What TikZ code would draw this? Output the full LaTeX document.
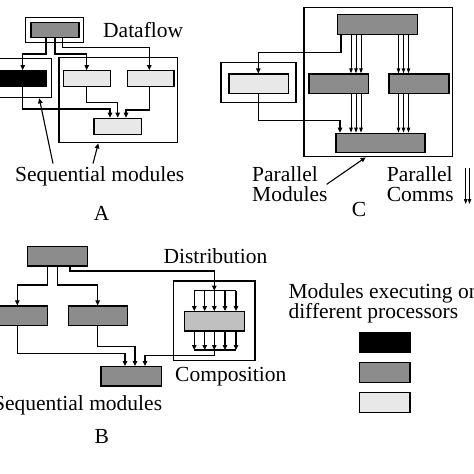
\documentclass[tikz,border=0pt]{standalone}
\usepackage{fontspec}
\setmainfont{Liberation Serif}
\usetikzlibrary{arrows.meta}
\definecolor{procdark}{RGB}{140,140,140}
\definecolor{proclight}{RGB}{232,232,232}
\definecolor{procmid}{RGB}{192,192,192}
\tikzset{
  mod/.style={draw,line width=1.3pt,inner sep=0pt},
  frame/.style={draw,line width=1.3pt,inner sep=0pt},
  flow/.style={->,line width=1.1pt},
  note/.style={->,line width=1.1pt},
  txt/.style={font=\fontsize{21.5pt}{20pt}\selectfont,inner sep=0pt,align=left},
}
\begin{document}
\begin{tikzpicture}[x=1pt,y=-1pt,>={Triangle[length=5pt,width=4.5pt]}]
\useasboundingbox (0,0) rectangle (474,474);
% panel A
\node[frame,minimum width=57.6,minimum height=25.4] (aTopFrame) at (54.5,30) {};
\node[mod,fill=procdark,minimum width=48,minimum height=14.6] (aTop) at (55,30) {};
\node[frame,minimum width=61.7,minimum height=39.4] (aLeftFrame) at (20.85,78) {};
\node[mod,fill=black,minimum width=56.7,minimum height=16] (aBlack) at (18.35,78.7) {};
\node[frame,minimum width=118.3,minimum height=85] (aRightFrame) at (118.15,100.2) {};
\node[mod,fill=proclight,minimum width=47.4,minimum height=16] (aL1) at (87,78.7) {};
\node[mod,fill=proclight,minimum width=46.3,minimum height=16] (aL2) at (150.85,78.7) {};
\node[mod,fill=proclight,minimum width=47.7,minimum height=16] (aBot) at (117.85,126.3) {};
\draw[flow] (aTop.south -| 46,0) |- (22.7,54) -- (aBlack.north -| 22.7,0);
\draw[flow] (aTop.south -| 55,0) |- (86.7,54) -- (aL1.north -| 86.7,0);
\draw[flow] (aTop.south -| 62.7,0) |- (149.3,47.3) -- (aL2.north -| 149.3,0);
\draw[flow] (aBlack.south -| 22.7,0) |- (110,109) -- (aBot.north -| 110,0);
\draw[flow] (aL1.south -| 86.7,0) |- (117.7,102.7) -- (aBot.north -| 117.7,0);
\draw[flow] (aL2.south -| 149.3,0) |- (126,110) -- (aBot.north -| 126,0);
\node[txt,anchor=base west] (aData) at (103,37.7) {Dataflow};
\node[txt,anchor=base west] (aSeq) at (15,181.7) {Sequential modules};
\node[txt,anchor=base] (aName) at (101.7,220) {A};
\draw[note] ([yshift=3pt]aSeq.north -| 53,0) -- (aLeftFrame.south -| 39.3,0);
\draw[note] ([yshift=3pt]aSeq.north -| 93,0) -- (aRightFrame.south -| 98.3,0);
% panel C
\node[frame,minimum width=148.7,minimum height=149] (cFrame) at (378.35,82.2) {};
\node[mod,fill=procdark,minimum width=80,minimum height=20] (cTop) at (377.7,24.3) {};
\node[mod,fill=procdark,minimum width=59.3,minimum height=19.3] (cMidL) at (338.65,83.65) {};
\node[mod,fill=procdark,minimum width=60,minimum height=19.3] (cMidR) at (419,83.65) {};
\node[mod,fill=procdark,minimum width=89,minimum height=19.4] (cBot) at (380.5,143) {};
\node[frame,minimum width=75,minimum height=40] (cSideFrame) at (258.5,82.3) {};
\node[mod,fill=proclight,minimum width=59.3,minimum height=19.3] (cLight) at (258.65,83.65) {};
\foreach \x in {351,356,361}{
  \draw[flow,line width=0.9pt,>={Triangle[length=5pt,width=3.5pt]}] (cTop.south -| \x,0) -- (cMidL.north -| \x,0);
  \draw[flow,line width=0.9pt,>={Triangle[length=5pt,width=3.5pt]}] (cMidL.south -| \x,0) -- (cBot.north -| \x,0);
}
\foreach \x in {398.5,403.5,408.5}{
  \draw[flow,line width=0.9pt,>={Triangle[length=5pt,width=3.5pt]}] (cTop.south -| \x,0) -- (cMidR.north -| \x,0);
  \draw[flow,line width=0.9pt,>={Triangle[length=5pt,width=3.5pt]}] (cMidR.south -| \x,0) -- (cBot.north -| \x,0);
}
\draw[flow] (cTop.south -| 341,0) |- (258.3,52.3) -- (cLight.north -| 258.3,0);
\draw[flow] (cLight.south -| 258.3,0) |- (340,120.7) -- (cBot.north -| 340,0);
\node[txt,anchor=base west] (cPar) at (252,201.7) {Parallel\\Modules};
\node[txt,anchor=base west] (cComms) at (386.7,201.7) {Parallel\\Comms};
\node[txt,anchor=base] (cName) at (359,216.7) {C};
\draw[note] ([xshift=-1pt]cPar.east) -- (cFrame.south -| 365.7,0);
\foreach \x in {465.7,469.5}
  \draw[flow,line width=0.9pt,>={Triangle[length=5pt,width=3.5pt]}] (\x,168) -- (\x,204);
% panel B
\node[mod,fill=procdark,minimum width=60,minimum height=19.3] (bTop) at (57.7,256.35) {};
\node[mod,fill=procdark,minimum width=60.3,minimum height=19.7] (bLeft) at (17.15,315.85) {};
\node[mod,fill=procdark,minimum width=59.4,minimum height=19.7] (bMid) at (98,315.85) {};
\node[mod,fill=procdark,minimum width=60.7,minimum height=19.3] (bBot) at (131.35,376.35) {};
\node[frame,minimum width=81.7,minimum height=79.7] (bFrame) at (214.15,320.85) {};
\node[mod,fill=procmid,minimum width=60,minimum height=19.3] (bPar) at (214.3,321.35) {};
\coordinate (bDist) at (214.3,290.7);
\coordinate (bComp) at (214.3,350);
\draw[line width=1.1pt] (bDist -| 194.3,0) -- (bDist -| 236,0);
\draw[line width=1.1pt] (bComp -| 194.3,0) -- (bComp -| 236,0);
\foreach \x in {194.3,204.7,214.3,225,236}{
  \draw[flow] (bDist -| \x,0) -- (bPar.north -| \x,0);
  \draw[flow] (bPar.south -| \x,0) -- (bComp -| \x,0);
}
\draw[flow] (bTop.south -| 47.7,0) |- (17.3,285) -- (bLeft.north -| 17.3,0);
\draw[flow] (bTop.south -| 57.7,0) |- (97.7,285) -- (bMid.north -| 97.7,0);
\draw[flow] (bTop.south -| 70,0) |- (214.3,271) -- (bDist);
\draw[flow] (bLeft.south -| 17.3,0) |- (125,353.3) -- (bBot.north -| 125,0);
\draw[flow] (bMid.south -| 97.7,0) |- (135,346.7) -- (bBot.north -| 135,0);
\draw[flow] (bComp) |- (145,355.5) -- (bBot.north -| 145,0);
\node[txt,anchor=base west] (bDistText) at (163.3,263.3) {Distribution};
\node[txt,anchor=base west] (bCompText) at (175,381.7) {Composition};
\node[txt,anchor=base east] (bSeq) at (162.3,410) {Sequential modules};
\node[txt,anchor=base] (bName) at (101.7,443.3) {B};
% legend
\node[txt,anchor=base west] (kText) at (288.3,318.3) {Modules executing on\\different processors};
\node[mod,fill=black,minimum width=50.7,minimum height=20] (kBlack) at (384.65,342.3) {};
\node[mod,fill=procdark,minimum width=50.7,minimum height=19.6] (kDark) at (384.65,372.5) {};
\node[mod,fill=proclight,minimum width=50.7,minimum height=19.6] (kLight) at (384.65,402.5) {};
\end{tikzpicture}
\end{document}
